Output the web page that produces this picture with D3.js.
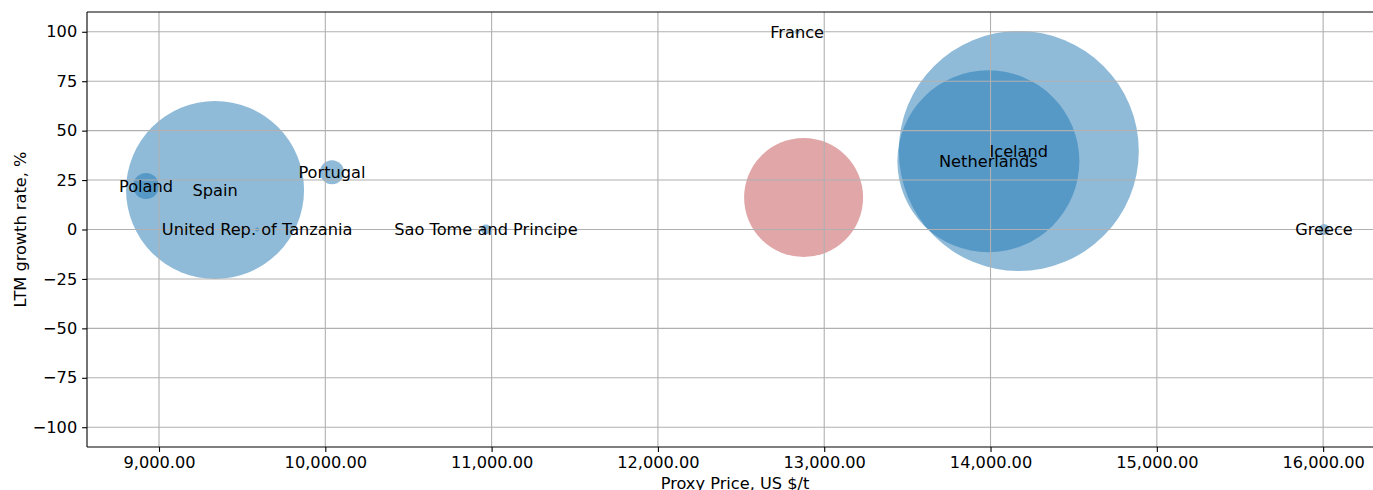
<!DOCTYPE html>
<html lang="en">
<head>
    <meta charset="UTF-8">
    <title>Proxy Price vs LTM growth rate</title>
    <style>
        body { margin: 0; background: #fff; }
        svg { display: block; }
        text { font-family: "DejaVu Sans", sans-serif; }
        .grid line { stroke: #b0b0b0; stroke-width: 1.1px; }
        .axis path { display: none; }
        .axis line { stroke: #000; stroke-width: 1.1px; }
        .axis text { font-size: 16.2px; fill: #000; font-family: "DejaVu Sans", sans-serif; }
        .label { font-size: 16.2px; fill: #000; }
    </style>
</head>
<body>
    <svg width="1373" height="490"></svg>
    <script src="https://d3js.org/d3.v7.min.js"></script>
    <script>
        // countries, proxy price (US $/t), LTM growth (%), trade volume (bubble size)
        var countries = ["Poland", "Spain", "Portugal", "United Rep. of Tanzania", "Sao Tome and Principe",
                         "France", "", "Iceland", "Netherlands", "Greece"];
        var prices = [8922, 9337, 10040, 9590, 10966, 12837, 12876, 14170, 13987, 16005];
        var growth = [22, 20, 29, 0, 0, 100, 16.2, 39.7, 34.5, 0];
        var volumes = [169, 7921, 144, 4, 25, 6, 3540, 14400, 8281, 30];
        var highlight = [false, false, false, false, false, false, true, false, false, false];

        var xTicks = [9000, 10000, 11000, 12000, 13000, 14000, 15000, 16000];
        var yTicks = [-100, -75, -50, -25, 0, 25, 50, 75, 100];

        var svg = d3.select("svg"),
            margin = {top: 12, right: -10, bottom: 43, left: 87},
            width = +svg.attr("width") - margin.left - margin.right,
            height = +svg.attr("height") - margin.top - margin.bottom;

        var x = d3.scaleLinear().domain([8567, 16360]).range([0, width]),
            y = d3.scaleLinear().domain([-110, 110]).range([height, 0]),
            r = d3.scaleSqrt().domain([0, d3.max(volumes)]).range([0, 120]);

        var g = svg.append("g")
            .attr("transform", "translate(" + margin.left + "," + margin.top + ")");

        var data = countries.map(function(c, i) {
            return {name: c, price: prices[i], growth: growth[i], vol: volumes[i], hi: highlight[i]};
        });

        g.append("clipPath").attr("id", "clip")
            .append("rect").attr("width", width).attr("height", height);

        var plot = g.append("g").attr("clip-path", "url(#clip)");

        plot.selectAll("circle")
            .data(data)
          .enter().append("circle")
            .attr("cx", function(d) { return x(d.price); })
            .attr("cy", function(d) { return y(d.growth); })
            .attr("r", function(d) { return r(d.vol); })
            .attr("fill", function(d) { return d.hi ? "#c44e52" : "#1f77b4"; })
            .attr("fill-opacity", 0.5);

        // grid on top of bubbles, like the original
        plot.append("g")
            .attr("class", "grid")
            .selectAll("line")
            .data(xTicks)
          .enter().append("line")
            .attr("x1", x).attr("x2", x)
            .attr("y1", 0).attr("y2", height);

        plot.append("g")
            .attr("class", "grid")
            .selectAll("line")
            .data(yTicks)
          .enter().append("line")
            .attr("y1", y).attr("y2", y)
            .attr("x1", 0).attr("x2", width);

        g.append("g")
            .attr("class", "axis axis--x")
            .attr("transform", "translate(0," + height + ")")
            .call(d3.axisBottom(x).tickValues(xTicks).tickFormat(d3.format(",.2f"))
                .tickSizeOuter(0).tickSize(4.9).tickPadding(4.9));

        g.append("g")
            .attr("class", "axis axis--y")
            .call(d3.axisLeft(y).tickValues(yTicks).tickFormat(function(d) {
                    return d < 0 ? "\u2212" + Math.abs(d) : d;
                })
                .tickSizeOuter(0).tickSize(4.9).tickPadding(4.9));

        // spines
        g.append("line").attr("x1", 0).attr("x2", 0).attr("y1", 0).attr("y2", height)
            .attr("stroke", "#000").attr("stroke-width", 1.1);
        g.append("line").attr("x1", 0).attr("x2", width).attr("y1", height).attr("y2", height)
            .attr("stroke", "#000").attr("stroke-width", 1.1);
        g.append("line").attr("x1", 0).attr("x2", width).attr("y1", 0).attr("y2", 0)
            .attr("stroke", "#000").attr("stroke-width", 1.1);

        g.selectAll(".name")
            .data(data.filter(function(d) { return d.name; }))
          .enter().append("text")
            .attr("class", "label")
            .attr("x", function(d) { return x(d.price); })
            .attr("y", function(d) { return y(d.growth); })
            .attr("text-anchor", "middle")
            .attr("dy", "0.36em")
            .text(function(d) { return d.name; });

        g.append("text")
            .attr("class", "label")
            .attr("transform", "translate(" + (20 - margin.left) + "," + (height / 2) + ") rotate(-90)")
            .attr("text-anchor", "middle")
            .attr("dy", "0.36em")
            .text("LTM growth rate, %");

        g.append("text")
            .attr("class", "label")
            .attr("x", width / 2)
            .attr("y", height + 36)
            .attr("text-anchor", "middle")
            .attr("dy", "0.36em")
            .text("Proxy Price, US $/t");
    </script>
</body>
</html>
